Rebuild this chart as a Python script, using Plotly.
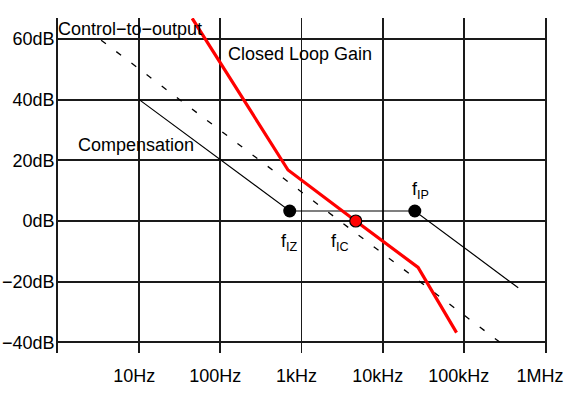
import math
import plotly.graph_objects as go

# ---- data (frequency in Hz, gain in dB) ----
ctrl_freq = [3.4, 320000]
ctrl_gain = [59.6, -41.2]

comp_freq = [10, 716, 24900, 468000]
comp_gain = [40, 3.3, 3.3, -22]

closed_freq = [45, 682, 4660, 27300, 81300]
closed_gain = [66.8, 16.8, 0, -15.3, -36.8]

pole_zero_freq = [716, 24900]
pole_zero_gain = [3.3, 3.3]

cross_freq = [4660]
cross_gain = [0]

x_tickvals = [10, 100, 1000, 10000, 100000, 1000000]
x_ticktext = ["10Hz", "100Hz", "1kHz", "10kHz", "100kHz", "1MHz"]
y_tickvals = [-40, -20, 0, 20, 40, 60]
y_ticktext = ["\u221240dB", "\u221220dB", "0dB", "20dB", "40dB", "60dB"]

FONT = "Liberation Sans, Arial, Helvetica, sans-serif"
FS = 18

fig = go.Figure()

fig.add_trace(go.Scatter(x=ctrl_freq, y=ctrl_gain, mode="lines",
                         line=dict(color="black", width=1.3, dash="6px,13px"),
                         showlegend=False, hoverinfo="skip"))
fig.add_trace(go.Scatter(x=comp_freq, y=comp_gain, mode="lines",
                         line=dict(color="black", width=1.2),
                         showlegend=False, hoverinfo="skip"))
fig.add_trace(go.Scatter(x=closed_freq, y=closed_gain, mode="lines",
                         line=dict(color="#ff0000", width=3.2),
                         showlegend=False, hoverinfo="skip"))
fig.add_trace(go.Scatter(x=pole_zero_freq, y=pole_zero_gain, mode="markers",
                         marker=dict(color="black", size=13),
                         showlegend=False, hoverinfo="skip"))
fig.add_trace(go.Scatter(x=cross_freq, y=cross_gain, mode="markers",
                         marker=dict(color="#ff0000", size=12,
                                     line=dict(color="black", width=1.2)),
                         showlegend=False, hoverinfo="skip"))

def ann(text, x, y, xref="x", xanchor="center", yanchor="middle", xshift=0):
    fig.add_annotation(text=text, x=x, y=y, xref=xref, yref="y",
                       xanchor=xanchor, yanchor=yanchor, showarrow=False,
                       xshift=xshift,
                       font=dict(family=FONT, size=FS, color="black"))

ann("Control\u2212to\u2212output", 0, 63.2, xref="paper", xanchor="left", xshift=-2)
ann("Closed Loop Gain", 2.09, 54.9, xanchor="left", xshift=-2)
ann("Compensation", 0.244, 25.0, xanchor="left", xshift=-2)
ann("f<sub>IP</sub>", 4.47, 10.0)
ann("f<sub>IZ</sub>", 2.855, -7.0)
ann("f<sub>IC</sub>", 3.47, -7.0)

fig.update_layout(
    width=578, height=393,
    margin=dict(l=58, r=33, t=18, b=40),
    paper_bgcolor="white", plot_bgcolor="white",
    font=dict(family=FONT, size=FS, color="black"),
    xaxis=dict(type="log", range=[0, 6], tickvals=x_tickvals, ticktext=x_ticktext,
               showgrid=True, gridcolor="#1a1a1a", gridwidth=1.8,
               showline=False, zeroline=False, ticks="", automargin=False,
               ticklabelstandoff=10, ticklabelshift=-5,
               tickfont=dict(family=FONT, size=FS, color="black")),
    yaxis=dict(range=[-43.5, 66.9], tickvals=y_tickvals, ticktext=y_ticktext,
               showgrid=True, gridcolor="#1a1a1a", gridwidth=1.8,
               showline=True, linecolor="#1a1a1a", linewidth=1.8, mirror=True,
               zeroline=False, ticks="", automargin=False, ticklabelstandoff=-2,
               tickfont=dict(family=FONT, size=FS, color="black")),
)

fig.write_html("out.html",
               config={"displayModeBar": False, "staticPlot": True},
               post_script="document.body.style.margin='0';document.body.style.overflow='hidden';")
